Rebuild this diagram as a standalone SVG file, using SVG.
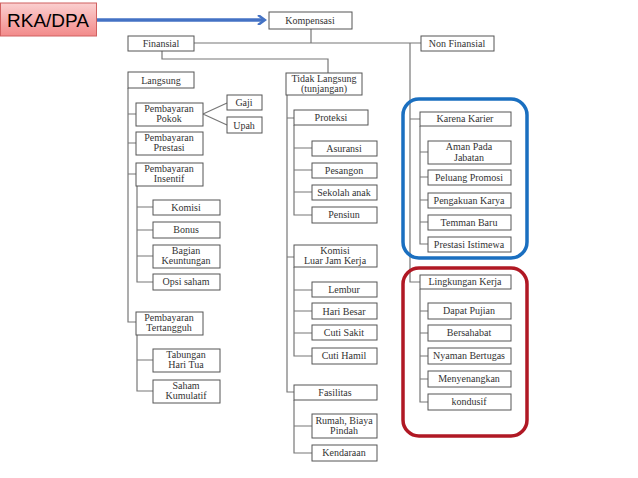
<svg xmlns="http://www.w3.org/2000/svg" width="638" height="478" viewBox="0 0 638 478" font-family="'Liberation Serif', serif">
<defs>
<linearGradient id="pk" x1="0" y1="0" x2="0" y2="1"><stop offset="0" stop-color="#fbd0d0"/><stop offset="1" stop-color="#f28a8a"/></linearGradient>
<marker id="ar" markerWidth="10" markerHeight="10" refX="7" refY="5" orient="auto" markerUnits="userSpaceOnUse"><path d="M1,0 L8,5 L1,10" fill="none" stroke="#4472c4" stroke-width="2.5"/></marker>
</defs>
<style>
.b rect{fill:#fff;stroke:#555;stroke-width:1}
.b text{font-family:'Liberation Serif',serif;font-size:10px;fill:#333;text-anchor:middle}
.c{fill:none;stroke:#777;stroke-width:1.2}
</style>
<rect width="638" height="478" fill="#fff"/>
<g id="rka"><rect x="0.5" y="3" width="96" height="33" fill="url(#pk)" stroke="#d06060"/><text x="48" y="27" font-family="'Liberation Sans', sans-serif" font-size="19" text-anchor="middle" fill="#000">RKA/DPA</text></g>
<g id="connectors">
<line x1="97" y1="20" x2="264" y2="20" stroke="#4472c4" stroke-width="3.5" marker-end="url(#ar)"/>
<path class="c" d="M311,29V43M194,43H421M162,51V59H328V73M128,88V322H136M128,114H136M128,143H136M128,174H136M203,114L227,103M203,114L227,125M137,186V282H153M137,207H153M137,230H153M137,256H153M137,335V391H153M137,360H153M287,95V392H294M287,118H294M287,257H294M294,125V215H312M294,148H312M294,170H312M294,192H312M294,267V356H312M294,290H312M294,311H312M294,333H312M294,400V453H312M294,426H312M410,43V282H420M410,119H420M420,126V244H428M420,152H428M420,177H428M420,200H428M420,222H428M420,289V402H428M420,311H428M420,333H428M420,356H428M420,379H428"/>
</g>
<g class="b">
<g id="kompensasi"><rect x="269" y="12" width="83" height="17"/><text x="310" y="24">Kompensasi</text></g>
<g id="finansial"><rect x="128" y="36" width="66" height="15"/><text x="161" y="47">Finansial</text></g>
<g id="nonfinansial"><rect x="421" y="36" width="73" height="15"/><text x="457" y="47">Non Finansial</text></g>
<g id="langsung"><rect x="128" y="72" width="66" height="16"/><text x="161" y="84">Langsung</text></g>
<g id="tidaklangsung"><rect x="286" y="73" width="76" height="22"/><text x="324" y="82">Tidak Langsung</text><text x="324" y="92">(tunjangan)</text></g>
<g id="pokok"><rect x="136" y="103" width="67" height="23"/><text x="169" y="112">Pembayaran</text><text x="169" y="122">Pokok</text></g>
<g id="gaji"><rect x="227" y="95" width="35" height="15"/><text x="244" y="106">Gaji</text></g>
<g id="upah"><rect x="227" y="117" width="35" height="16"/><text x="244" y="129">Upah</text></g>
<g id="prestasi"><rect x="136" y="132" width="67" height="23"/><text x="169" y="141">Pembayaran</text><text x="169" y="151">Prestasi</text></g>
<g id="insentif"><rect x="136" y="163" width="67" height="23"/><text x="169" y="172">Pembayaran</text><text x="169" y="182">Insentif</text></g>
<g id="komisi"><rect x="153" y="200" width="67" height="15"/><text x="186" y="211">Komisi</text></g>
<g id="bonus"><rect x="153" y="222" width="67" height="16"/><text x="186" y="233">Bonus</text></g>
<g id="bagian"><rect x="153" y="245" width="67" height="23"/><text x="186" y="254">Bagian</text><text x="186" y="264">Keuntungan</text></g>
<g id="opsi"><rect x="153" y="274" width="67" height="16"/><text x="186" y="285">Opsi saham</text></g>
<g id="tertangguh"><rect x="136" y="312" width="67" height="23"/><text x="169" y="321">Pembayaran</text><text x="169" y="331">Tertangguh</text></g>
<g id="tabungan"><rect x="153" y="349" width="67" height="23"/><text x="186" y="358">Tabungan</text><text x="186" y="368">Hari Tua</text></g>
<g id="saham"><rect x="153" y="380" width="67" height="23"/><text x="186" y="389">Saham</text><text x="186" y="399">Kumulatif</text></g>
<g id="proteksi"><rect x="294" y="110" width="74" height="15"/><text x="331" y="121">Proteksi</text></g>
<g id="asuransi"><rect x="312" y="141" width="65" height="15"/><text x="344" y="152">Asuransi</text></g>
<g id="pesangon"><rect x="312" y="163" width="65" height="15"/><text x="344" y="174">Pesangon</text></g>
<g id="sekolah"><rect x="312" y="185" width="65" height="15"/><text x="344" y="196">Sekolah anak</text></g>
<g id="pensiun"><rect x="312" y="207" width="65" height="16"/><text x="344" y="218">Pensiun</text></g>
<g id="komisiluar"><rect x="294" y="245" width="83" height="22"/><text x="335" y="254">Komisi</text><text x="335" y="264">Luar Jam Kerja</text></g>
<g id="lembur"><rect x="312" y="282" width="65" height="15"/><text x="344" y="293">Lembur</text></g>
<g id="haribesar"><rect x="312" y="303" width="65" height="16"/><text x="344" y="315">Hari Besar</text></g>
<g id="cutisakit"><rect x="312" y="325" width="65" height="15"/><text x="344" y="336">Cuti Sakit</text></g>
<g id="cutihamil"><rect x="312" y="348" width="65" height="16"/><text x="344" y="359">Cuti Hamil</text></g>
<g id="fasilitas"><rect x="294" y="385" width="83" height="15"/><text x="335" y="396">Fasilitas</text></g>
<g id="rumah"><rect x="312" y="414" width="65" height="24"/><text x="344" y="424">Rumah, Biaya</text><text x="344" y="434">Pindah</text></g>
<g id="kendaraan"><rect x="312" y="445" width="65" height="16"/><text x="344" y="456">Kendaraan</text></g>
<g id="karier"><rect x="420" y="112" width="91" height="14"/><text x="465" y="122">Karena Karier</text></g>
<g id="aman"><rect x="428" y="141" width="83" height="23"/><text x="469" y="150">Aman Pada</text><text x="469" y="160.5">Jabatan</text></g>
<g id="peluang"><rect x="428" y="170" width="83" height="15"/><text x="469" y="181">Peluang Promosi</text></g>
<g id="pengakuan"><rect x="428" y="193" width="83" height="15"/><text x="469" y="204">Pengakuan Karya</text></g>
<g id="teman"><rect x="428" y="215" width="83" height="15"/><text x="469" y="226">Temman Baru</text></g>
<g id="istimewa"><rect x="428" y="237" width="83" height="15"/><text x="469" y="248">Prestasi Istimewa</text></g>
<g id="lingkungan"><rect x="420" y="275" width="91" height="14"/><text x="465" y="285">Lingkungan Kerja</text></g>
<g id="pujian"><rect x="428" y="303" width="83" height="16"/><text x="469" y="314">Dapat Pujian</text></g>
<g id="sahabat"><rect x="428" y="325" width="83" height="16"/><text x="469" y="336">Bersahabat</text></g>
<g id="nyaman"><rect x="428" y="348" width="83" height="16"/><text x="469" y="359">Nyaman Bertugas</text></g>
<g id="menyenangkan"><rect x="428" y="371" width="83" height="16"/><text x="469" y="382">Menyenangkan</text></g>
<g id="kondusif"><rect x="428" y="394" width="83" height="16"/><text x="469" y="405">kondusif</text></g>
</g>
<rect x="403" y="99" width="124" height="159" rx="16" fill="none" stroke="#1a6fc0" stroke-width="3.5"/>
<rect x="403" y="268" width="124" height="168" rx="16" fill="none" stroke="#b01824" stroke-width="3.5"/>
</svg>
